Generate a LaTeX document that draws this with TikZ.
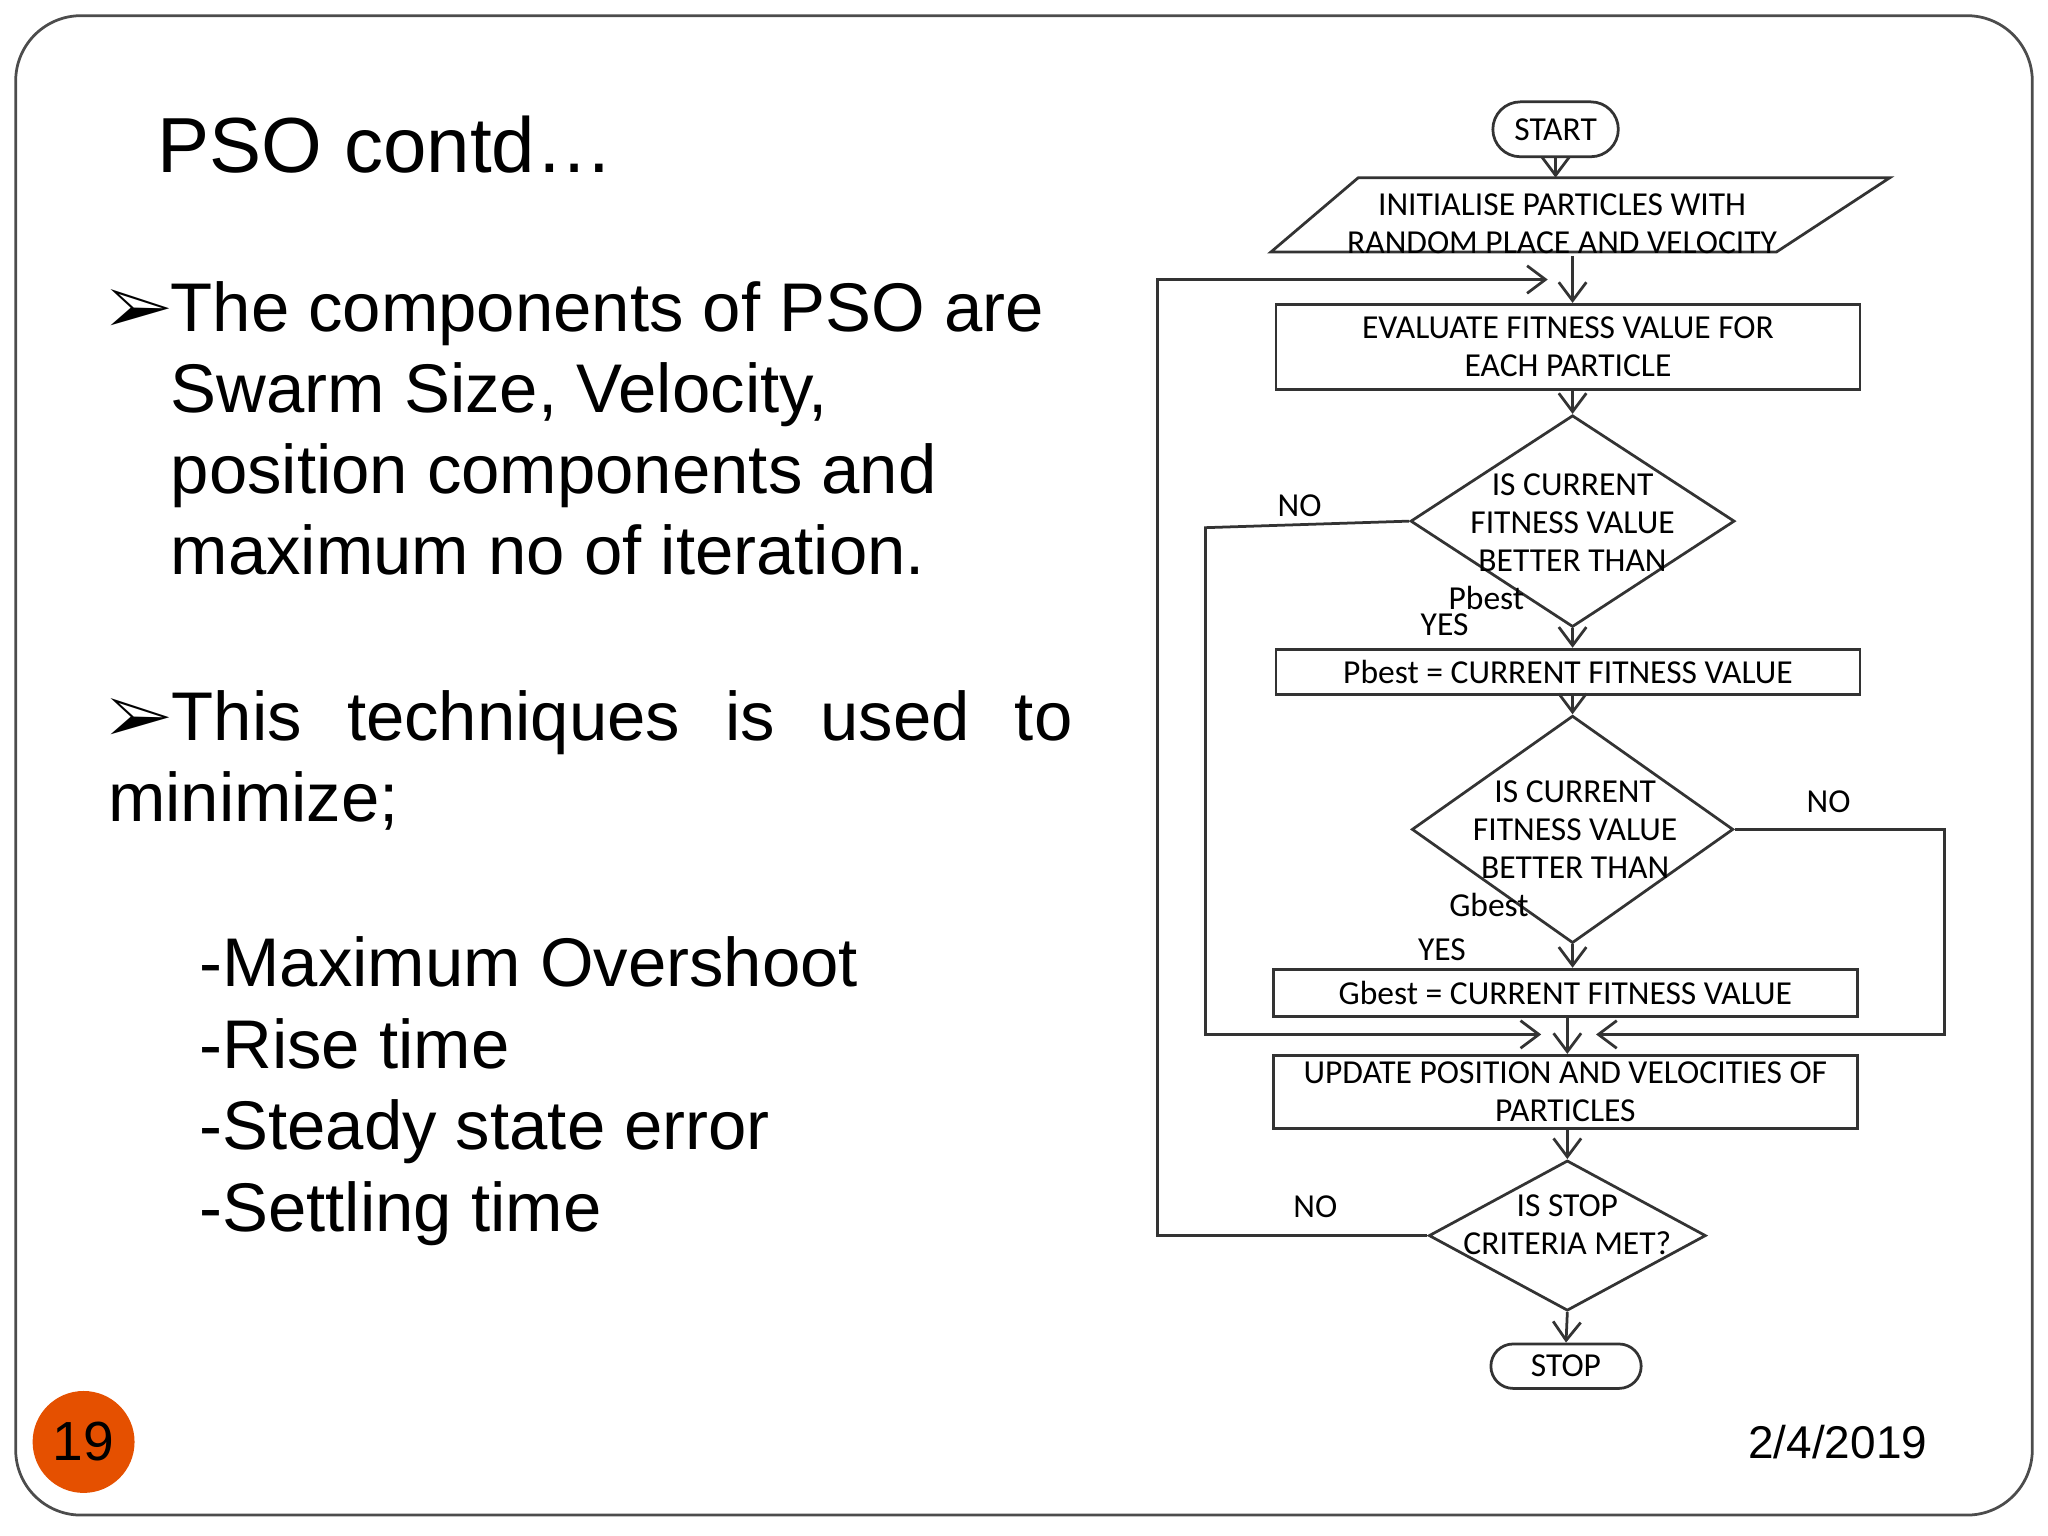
\documentclass[tikz,border=0pt]{standalone}
\usepackage{fontspec}
\setmainfont{Liberation Sans}
\newfontfamily\fc{Carlito}
\usepackage{pifont}
\usetikzlibrary{shapes.geometric,shapes.misc,arrows.meta}
\begin{document}
\begin{tikzpicture}[x=0.01cm,y=-0.01cm,
 big/.style={font=\fontsize{15}{18}\selectfont,anchor=base west,inner sep=0},
 ft/.style={font=\fc\fontsize{7.3}{8.3}\selectfont,inner sep=0},
 ln/.style={draw=black!80,line width=0.6pt},
 ar/.style={ln,-{Straight Barb[length=4pt,width=6pt]}},
 pill/.style={ln,rounded rectangle,minimum height=0.4cm},
 box/.style={ln,rectangle}]
\useasboundingbox (0,0) rectangle (1568,1176);
\draw[black!70,rounded corners=0.5cm,line width=0.6pt] (12,12) rectangle (1556,1160);
\node[font=\fontsize{17}{20}\selectfont,anchor=base west,inner sep=0] (title) at (120,132) {PSO contd…};
\node[big] (b1) at (82,254) {\ding{226}};
\node[big] (l1) at (130,254) {The components of PSO are};
\node[big] (l2) at (130,316) {Swarm Size, Velocity,};
\node[big] (l3) at (130,378) {position components and};
\node[big] (l4) at (130,440) {maximum no of iteration.};
\node[big] (l5) at (82,567) {\hbox to 7.38cm{\ding{226}This\hfill techniques\hfill is\hfill used\hfill to}};
\node[big] (l6) at (82,629) {minimize;};
\node[big] (m1) at (152,755) {-Maximum Overshoot};
\node[big] (m2) at (152,818) {-Rise time};
\node[big] (m3) at (152,880) {-Steady state error};
\node[big] (m4) at (152,943) {-Settling time};
\node[circle,fill=orange!70!red!90!black,minimum size=0.78cm,font=\fontsize{12}{14}\selectfont,inner sep=0] (pg) at (64,1104) {19};
\node[font=\fontsize{10}{12}\selectfont] (date) at (1407,1104) {2/4/2019};
% flowchart
\node[pill,ft,minimum width=0.96cm,minimum height=0.42cm] (start) at (1191,99) {START};
\draw[ln] (973,193) -- (1040,136) -- (1447,136) -- (1360,193) -- cycle;
\node[ft,align=center] (init) at (1196,171) {INITIALISE PARTICLES WITH\\RANDOM PLACE AND VELOCITY};
\coordinate (ptop) at (1191,136);
\draw[ar] (start) -- (ptop);
\node[box,ft,align=center,minimum width=4.47cm,minimum height=0.65cm] (eval) at (1200.5,265.5) {EVALUATE FITNESS VALUE FOR\\EACH PARTICLE};
\coordinate (pbot) at (1204,196);
\draw[ar] (pbot) -- (eval.north -| pbot);
\node[ln,diamond,minimum width=2.48cm,minimum height=1.62cm,inner sep=0] (d1) at (1204,399) {};
\node[ft,align=center] (d1t) at (1204,400) {IS CURRENT\\FITNESS VALUE\\BETTER THAN};
\node[ft] (pb) at (1138,458) {Pbest};
\node[ft] (y1) at (1106,478) {YES};
\node[ft] (n1) at (995,387) {NO};
\draw[ar] (eval.south -| d1) -- (d1.north);
\node[box,ft,minimum width=4.47cm,minimum height=0.35cm] (pbox) at (1200.5,514.5) {Pbest = CURRENT FITNESS VALUE};
\draw[ar] (d1.south) -- (pbox.north -| d1);
\node[ln,diamond,minimum width=2.46cm,minimum height=1.74cm,inner sep=0] (d2) at (1204,635) {};
\node[ft,align=center] (d2t) at (1206,635) {IS CURRENT\\FITNESS VALUE\\BETTER THAN};
\node[ft] (gb) at (1140,693) {Gbest};
\node[ft] (y2) at (1104,727) {YES};
\node[ft] (n2) at (1400,614) {NO};
\draw[ar] (pbox.south -| d2) -- (d2.north);
\node[box,ft,minimum width=4.47cm,minimum height=0.36cm] (gbox) at (1198.5,760) {Gbest = CURRENT FITNESS VALUE};
\draw[ar] (d2.south) -- (gbox.north -| d2);
\node[box,ft,align=center,minimum width=4.47cm,minimum height=0.56cm] (upd) at (1198.5,836) {UPDATE POSITION AND VELOCITIES OF\\PARTICLES};
\draw[ar] (gbox.south -| 1200,0) -- (upd.north -| 1200,0);
\coordinate (la) at (1180,792);
\coordinate (ra) at (1222,792);
\draw[ar] (d1.west) -- (923,404) -- (923,792) -- (la);
\draw[ar] (d2.east) -- (1489,635) -- (1489,792) -- (ra);
\node[ln,diamond,minimum width=2.12cm,minimum height=1.15cm,inner sep=0] (d3) at (1200,946) {};
\node[ft,align=center] (d3t) at (1200,938) {IS STOP\\CRITERIA MET?};
\node[ft] (n3) at (1007,924) {NO};
\draw[ar] (upd.south -| d3) -- (d3.north);
\coordinate (ev) at (1185,214);
\draw[ar] (d3.west) -- (886,946) -- (886,214) -- (ev);
\node[pill,ft,minimum width=1.15cm,minimum height=0.34cm] (stop) at (1199,1046) {STOP};
\draw[ar] (d3.south) -- (stop.north);
\end{tikzpicture}
\end{document}
